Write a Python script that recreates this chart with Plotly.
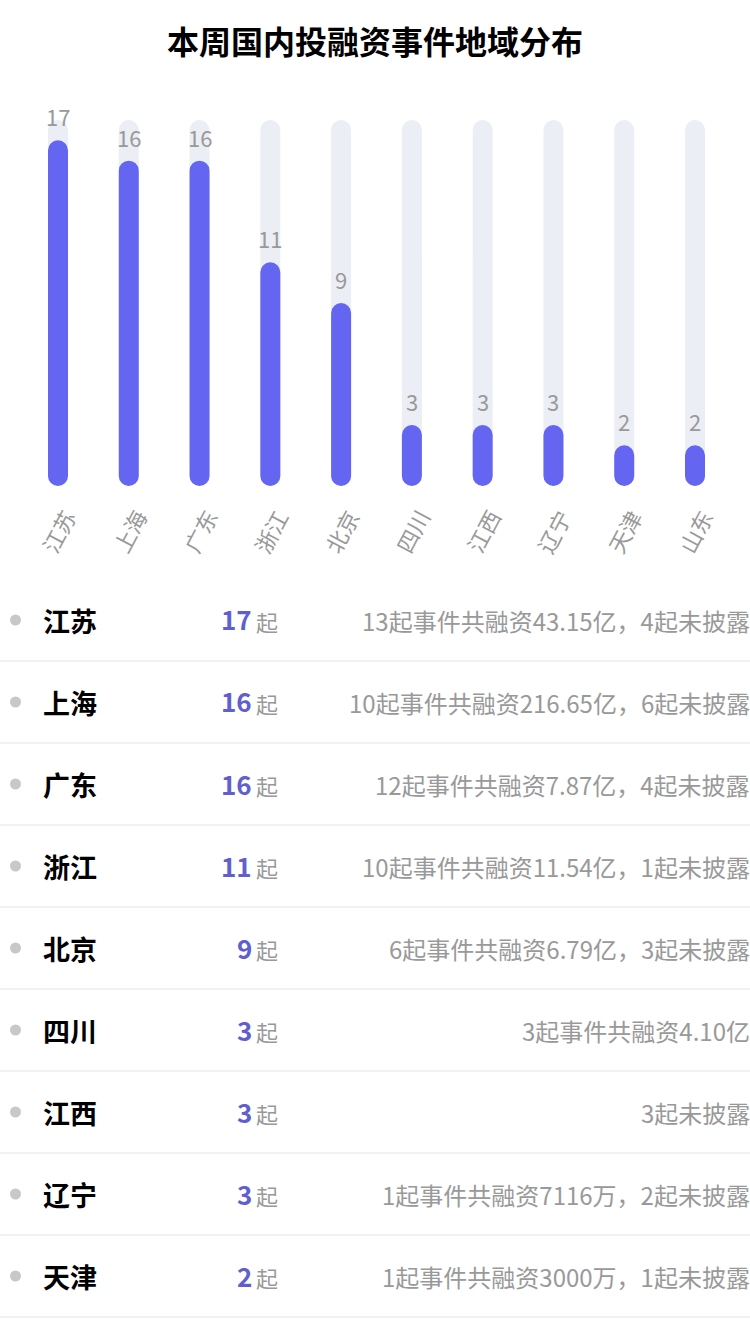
import plotly.graph_objects as go

# ---------------- data ----------------
regions = ['江苏', '上海', '广东', '浙江', '北京', '四川', '江西', '辽宁', '天津', '山东']
counts = [17, 16, 16, 11, 9, 3, 3, 3, 2, 2]
list_regions = ['江苏', '上海', '广东', '浙江', '北京', '四川', '江西', '辽宁', '天津']
list_counts = [17, 16, 16, 11, 9, 3, 3, 3, 2]
descs = ['13起事件共融资43.15亿，4起未披露',
         '10起事件共融资216.65亿，6起未披露',
         '12起事件共融资7.87亿，4起未披露',
         '10起事件共融资11.54亿，1起未披露',
         '6起事件共融资6.79亿，3起未披露',
         '3起事件共融资4.10亿',
         '3起未披露',
         '1起事件共融资7116万，2起未披露',
         '1起事件共融资3000万，1起未披露']
y_max = 18
title = '本周国内投融资事件地域分布'

# ---------------- style ----------------
W, H = 750, 1334
FONT = 'Noto Sans CJK SC'
BAR = '#6466F1'
BG = '#ECEEF5'
GREY = '#999999'
NUM = '#5F5FCF'
BW = 0.2826


def px(x):
    return x / W


def py(y):
    return 1 - y / H


fig = go.Figure()
zeros = [0] * len(regions)
# background pill
fig.add_trace(go.Bar(x=regions, y=[y_max] * len(regions), base=zeros, width=BW,
                     marker=dict(color=BG, cornerradius=10, line_width=0), hoverinfo='skip'))
# value pill
fig.add_trace(go.Bar(x=regions, y=counts, base=zeros, width=BW,
                     marker=dict(color=BAR, cornerradius=10, line_width=0), hoverinfo='skip'))

annotations = []
# value labels
for r, v in zip(regions, counts):
    annotations.append(dict(x=r, y=v, xref='x', yref='y', text=str(v), showarrow=False,
                            yanchor='middle', yshift=24,
                            font=dict(family=FONT, size=22, color=GREY)))
# rotated category labels
for r in regions:
    annotations.append(dict(x=r, y=py(531), xref='x', yref='paper', text=r, showarrow=False,
                            xanchor='center', yanchor='middle', textangle=-62,
                            font=dict(family=FONT, size=22, color=GREY)))
# title
annotations.append(dict(x=0.5, y=py(40), xref='paper', yref='paper', text='<b>' + title + '</b>',
                        showarrow=False, xanchor='center', yanchor='middle',
                        font=dict(family=FONT, size=32, color='#000000')))

shapes = []
ROW0, ROWH = 620, 82
for i, (r, c, d) in enumerate(zip(list_regions, list_counts, descs)):
    yc = ROW0 + ROWH * i
    shapes.append(dict(type='circle', xref='paper', yref='paper',
                       x0=px(10), x1=px(21), y0=py(yc - 5.5), y1=py(yc + 5.5),
                       fillcolor='#C8C8C8', line_width=0))
    shapes.append(dict(type='line', xref='paper', yref='paper', x0=0, x1=1,
                       y0=py(yc + 41), y1=py(yc + 41), line=dict(color='#EEEEEE', width=1.5)))
    annotations.append(dict(x=px(41), y=py(yc), xref='paper', yref='paper', text='<b>' + r + '</b>',
                            showarrow=False, xanchor='left', yanchor='middle',
                            font=dict(family=FONT, size=27, color='#000000')))
    annotations.append(dict(x=px(254), y=py(yc - 1), xref='paper', yref='paper', text='<b>' + str(c) + '</b>',
                            showarrow=False, xanchor='right', yanchor='middle',
                            font=dict(family=FONT, size=26, color=NUM)))
    annotations.append(dict(x=px(254), y=py(yc + 1), xref='paper', yref='paper', text='起',
                            showarrow=False, xanchor='left', yanchor='middle',
                            font=dict(family=FONT, size=22, color=GREY)))
    annotations.append(dict(x=px(752), y=py(yc), xref='paper', yref='paper', text=d,
                            showarrow=False, xanchor='right', yanchor='middle',
                            font=dict(family=FONT, size=24, color=GREY)))

fig.update_layout(
    width=W, height=H, margin=dict(l=0, r=0, t=0, b=0),
    paper_bgcolor='white', plot_bgcolor='rgba(0,0,0,0)',
    barmode='overlay', showlegend=False,
    xaxis=dict(domain=[px(22.6), px(730.4)], showticklabels=False, showgrid=False,
               zeroline=False, showline=False, ticks=''),
    yaxis=dict(domain=[py(486), py(120)], range=[0, y_max], showticklabels=False,
               showgrid=False, zeroline=False, showline=False),
    annotations=annotations, shapes=shapes,
    font=dict(family=FONT),
)

fig.write_html('out.html')
